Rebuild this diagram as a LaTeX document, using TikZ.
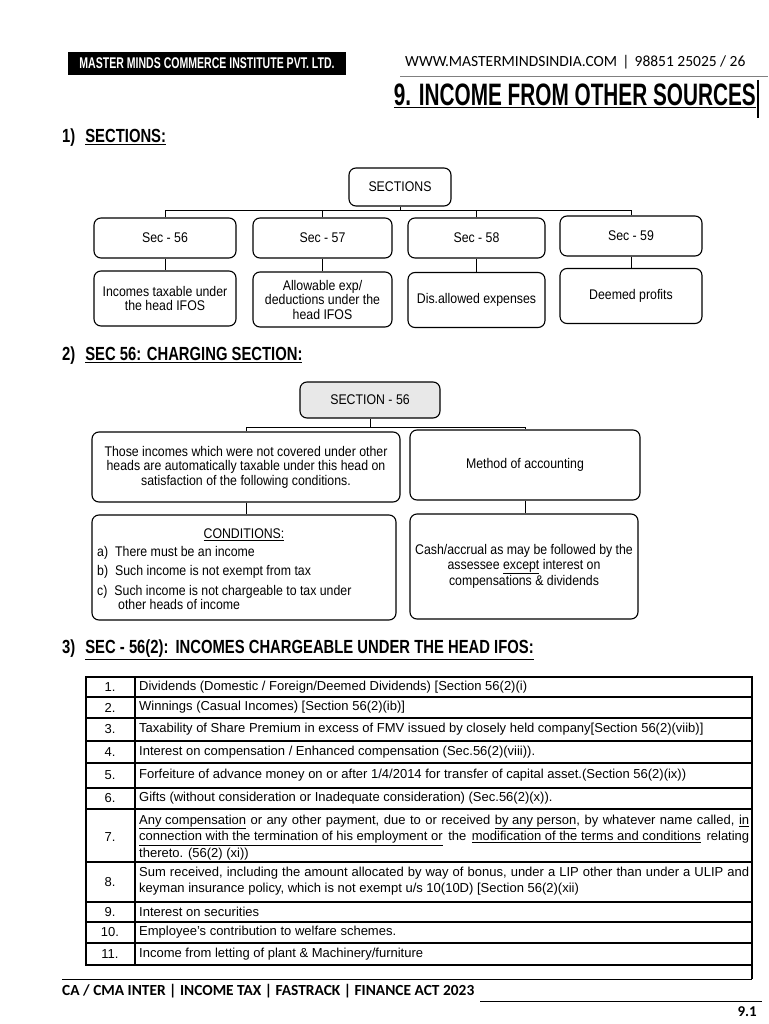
\documentclass[tikz,border=0pt]{standalone}
\usepackage{fontspec}
\setmainfont{Liberation Sans}
\newfontfamily\nar[FakeStretch=0.88]{Liberation Sans}
\newfontfamily\impact[FakeStretch=0.78]{Liberation Sans}
\newfontfamily\impacttitle[FakeStretch=0.67]{Liberation Sans}
\newfontfamily\impactbrand[FakeStretch=0.68]{Liberation Sans}
\newfontfamily\calfont{Carlito}
\begin{document}
\begin{tikzpicture}[x=1pt,y=-1pt,
  box/.style={draw, rounded corners=7pt, line width=1.1pt, align=center, inner sep=2pt,
    font=\nar\fontsize{14}{14.5}\selectfont},
  txt/.style={inner sep=0pt, font=\nar\fontsize{14}{14.5}\selectfont},
  conn/.style={line width=1pt},
  head/.style={anchor=west, inner sep=0pt, font=\impact\bfseries\fontsize{19}{21}\selectfont},
  cell/.style={anchor=west, inner sep=0pt, font=\fontsize{13}{16.5}\selectfont, align=left},
  num/.style={inner sep=0pt, font=\fontsize{13}{15}\selectfont},
  tline/.style={line width=1.1pt}]
\useasboundingbox (0,0) rectangle (768,1024);
\fill[white] (0,0) rectangle (768,1024);

% ---------- header ----------
\node[fill=black, minimum width=278pt, minimum height=23pt, inner sep=0pt, text=white,
  font=\impactbrand\bfseries\fontsize{15.5}{16}\selectfont] (brand) at (207,63.5) {MASTER MINDS COMMERCE INSTITUTE PVT. LTD.};
\node[anchor=west, inner sep=0pt, font=\calfont\fontsize{15.5}{16}\selectfont] (url) at (405,62)
  {WWW.MASTERMINDSINDIA.COM\,\,|\,\,98851 25025 / 26};
\draw[line width=0.5pt, gray] (400,76) -- (768,76);
\node[anchor=east, inner sep=0pt, font=\impacttitle\bfseries\fontsize{31}{33}\selectfont] (title) at (756,96)
  {\underline{9. INCOME FROM OTHER SOURCES}};
\draw[line width=2pt] (758,80) -- (758,118);

% ---------- 1) sections ----------
\node[head] (h1) at (62,138) {1)\hspace{10pt}\underline{SECTIONS:}};

\node[box, minimum width=102pt, minimum height=38pt] (sec) at (400,187) {SECTIONS};
\node[box, minimum width=142pt, minimum height=40pt] (s56) at (165,238) {Sec - 56};
\node[box, minimum width=139pt, minimum height=40pt] (s57) at (322.5,238) {Sec - 57};
\node[box, minimum width=137pt, minimum height=40pt] (s58) at (476.5,238) {Sec - 58};
\node[box, minimum width=142pt, minimum height=40pt] (s59) at (631,236) {Sec - 59};
\node[box, minimum width=142pt, minimum height=55pt] (d56) at (165,298.5) {Incomes taxable under\\the head IFOS};
\node[box, minimum width=139pt, minimum height=55pt] (d57) at (322.5,299.5) {Allowable exp/\\deductions under the\\head IFOS};
\node[box, minimum width=137pt, minimum height=55pt] (d58) at (476.5,300) {Dis.allowed expenses};
\node[box, minimum width=142pt, minimum height=55pt] (d59) at (631,296) {Deemed profits};

\coordinate (bus1) at (400,211);
\draw[conn] (sec.south) -- (bus1);
\draw[conn] (s56.north) -- (s56.north |- bus1) -- (s59.north |- bus1) -- (s59.north);
\draw[conn] (s57.north) -- (s57.north |- bus1);
\draw[conn] (s58.north) -- (s58.north |- bus1);
\draw[conn] (s56.south) -- (d56.north);
\draw[conn] (s57.south) -- (d57.north);
\draw[conn] (s58.south) -- (d58.north);
\draw[conn] (s59.south) -- (d59.north);

% ---------- 2) sec 56 ----------
\node[head] (h2) at (62,356) {2)\hspace{10pt}\underline{SEC 56: CHARGING SECTION:}};

\node[box, fill=gray!18, minimum width=140pt, minimum height=36pt] (sc56) at (370,400) {SECTION - 56};
\node[box, minimum width=308pt, minimum height=70pt] (inc) at (246,467)
  {Those incomes which were not covered under other\\heads are automatically taxable under this head on\\satisfaction of the following conditions.};
\node[box, minimum width=230pt, minimum height=70pt] (moa) at (525,465) {Method of accounting};
\node[box, minimum width=304pt, minimum height=105pt] (cond) at (244,567.5) {};
\node[box, minimum width=228pt, minimum height=105pt] (cash) at (524,566.5)
  {Cash/accrual as may be followed by the\\assessee \underline{except} interest on\\compensations \& dividends};

\node[txt] (condh) at (244,535) {\underline{CONDITIONS:}};
\node[txt, anchor=west] (ca) at (97,553) {a)\hspace{7pt}There must be an income};
\node[txt, anchor=west] (cb) at (97,572) {b)\hspace{7pt}Such income is not exempt from tax};
\node[txt, anchor=north west, align=left] (cc) at (97,585)
  {c)\hspace{7pt}Such income is not chargeable to tax under\\\hspace{21pt}other heads of income};

\coordinate (bus2) at (385,427);
\draw[conn] (sc56.south) -- (sc56.south |- bus2);
\draw[conn] (inc.north) -- (inc.north |- bus2) -- (moa.north |- bus2) -- (moa.north);
\draw[conn] (inc.south) -- (inc.south |- cond.north);
\draw[conn] (moa.south) -- (moa.south |- cash.north);

% ---------- 3) table ----------
\node[head] (h3) at (62,650) {3)\hspace{10pt}\underline{SEC - 56(2):\hspace{7pt}INCOMES CHARGEABLE UNDER THE HEAD IFOS:}};

\draw[tline] (86,677) rectangle (752,965);
\draw[tline] (135,677) -- (135,965);
\foreach \yy in {697,718,741,763,788,809,862,902,922,943} {
  \draw[tline] (86,\yy) -- (752,\yy);
}
\foreach \n/\yy in {1/687,2/707.5,3/729.5,4/752,5/775.5,6/798.5,7/837,8/882,9/912,10/932.5,11/954} {
  \node[num] (n\n) at (110,\yy) {\n.};
}
\node[cell] (r1) at (139,687) {Dividends (Domestic / Foreign/Deemed Dividends) [Section 56(2)(i)};
\node[cell] (r2) at (139,707.5) {Winnings (Casual Incomes) [Section 56(2)(ib)]};
\node[cell] (r3) at (139,729.5) {Taxability of Share Premium in excess of FMV issued by closely held company[Section 56(2)(viib)]};
\node[cell] (r4) at (139,752) {Interest on compensation / Enhanced compensation (Sec.56(2)(viii)).};
\node[cell] (r5) at (139,775.5) {Forfeiture of advance money on or after 1/4/2014 for transfer of capital asset.(Section 56(2)(ix))};
\node[cell] (r6) at (139,798.5) {Gifts (without consideration or Inadequate consideration) (Sec.56(2)(x)).};
\node[cell] (r7) at (139,837.5) {%
  \makebox[610pt][s]{\underline{Any compensation} or any other payment, due to or received \underline{by any person}, by whatever name called, \underline{in}}\\
  \makebox[610pt][s]{\underline{connection with the termination of his employment or} the \underline{modification of the terms and conditions} relating}\\
  thereto. (56(2) (xi))};
\node[cell] (r8) at (139,881) {%
  \makebox[610pt][s]{Sum received, including the amount allocated by way of bonus, under a LIP other than under a ULIP and}\\
  keyman insurance policy, which is not exempt u/s 10(10D) [Section 56(2)(xii)};
\node[cell] (r9) at (139,912) {Interest on securities};
\node[cell] (r10) at (139,932.5) {Employee's contribution to welfare schemes.};
\node[cell] (r11) at (139,954) {Income from letting of plant \& Machinery/furniture};

% ---------- footer ----------
\draw[tline] (752,965) -- (752,979);
\draw[line width=1pt] (62,979) -- (752,979);
\node[anchor=west, inner sep=0pt, font=\calfont\bfseries\fontsize{15.4}{16}\selectfont] (foot) at (62,991)
  {CA / CMA INTER | INCOME TAX | FASTRACK | FINANCE ACT 2023};
\draw[line width=0.8pt] (480,1001) -- (762,1001);
\node[anchor=east, inner sep=0pt, font=\calfont\bfseries\fontsize{15}{16}\selectfont] (pg) at (757,1012) {9.1};
\end{tikzpicture}
\end{document}
